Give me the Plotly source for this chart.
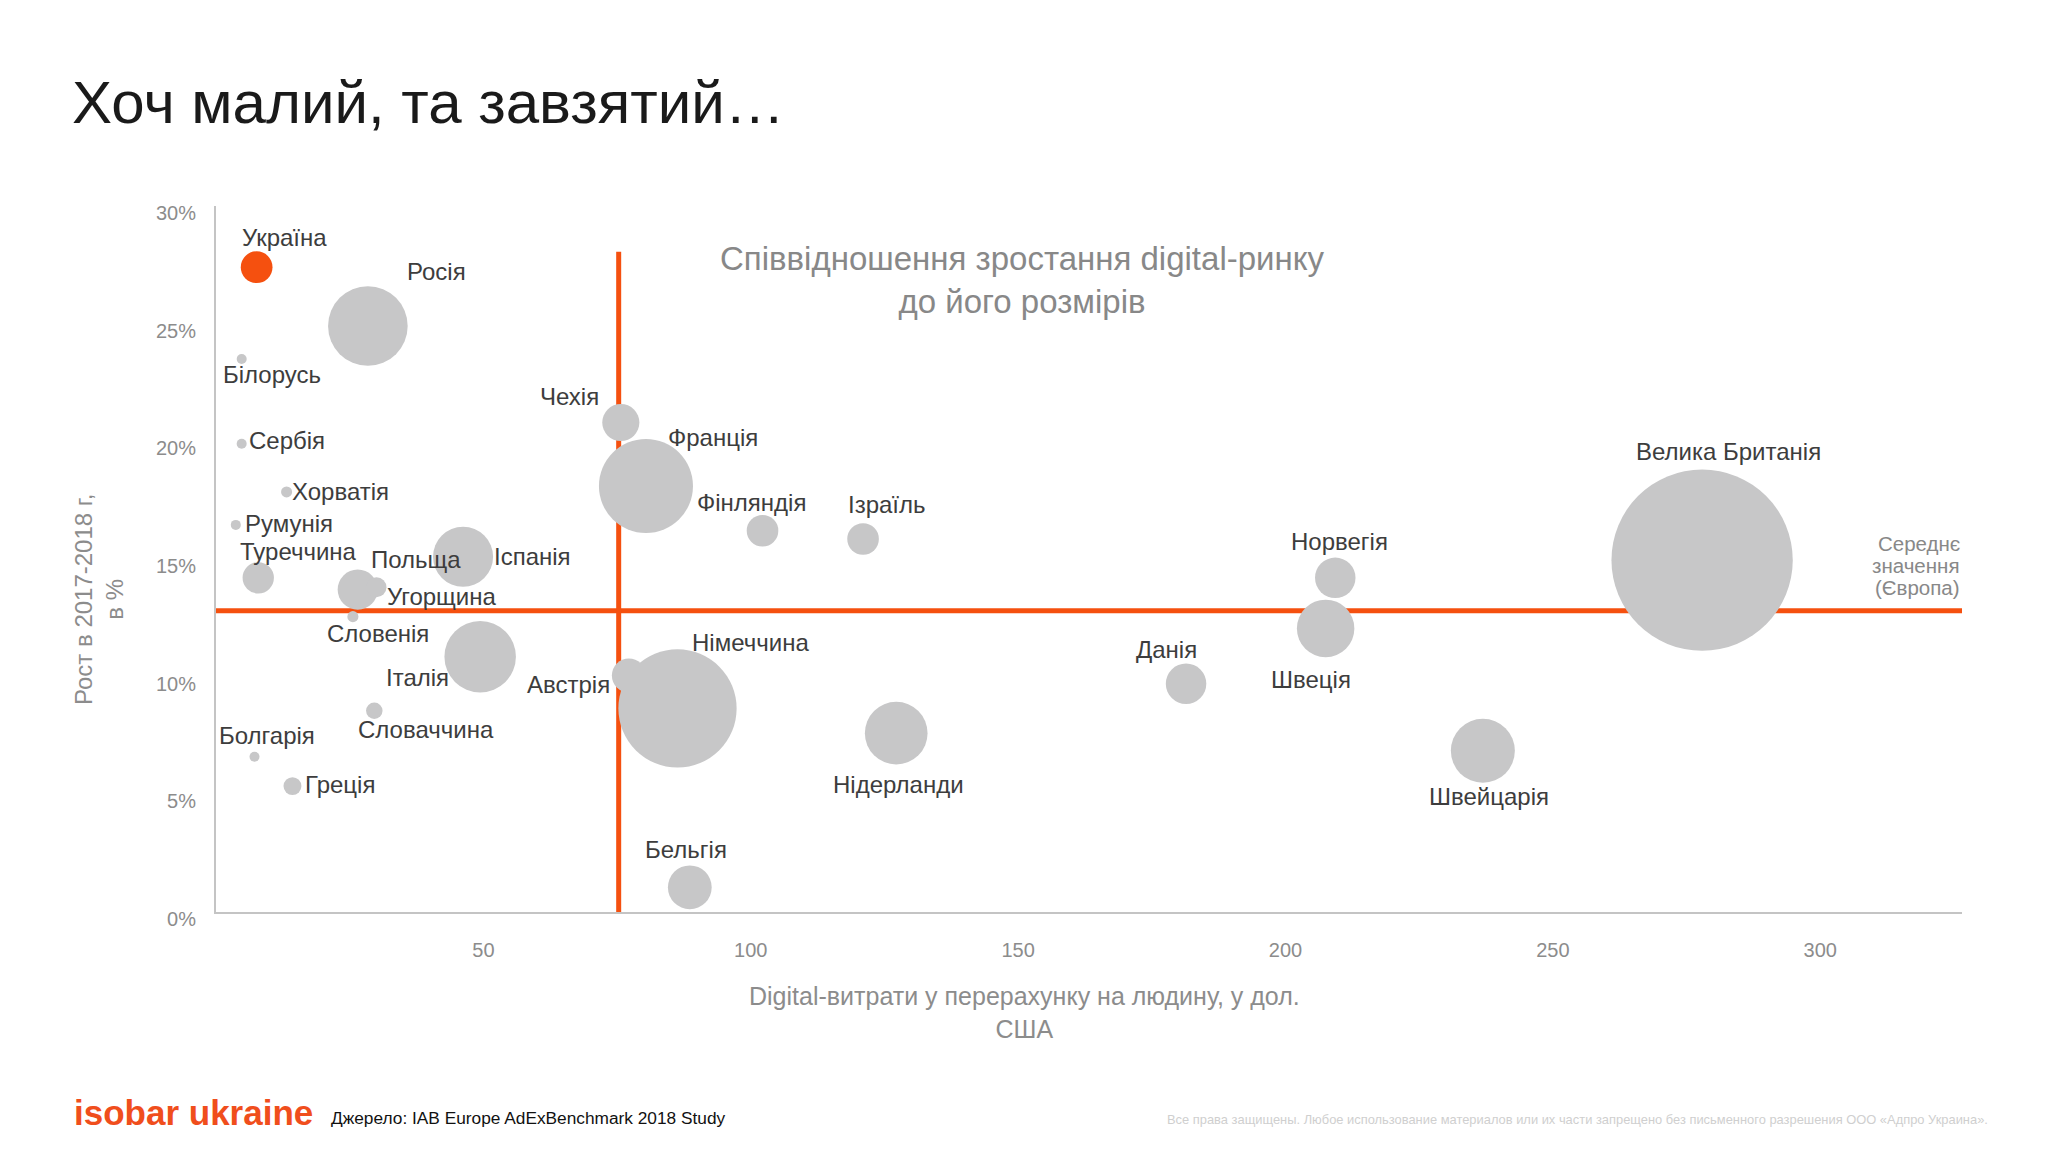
import plotly.graph_objects as go

# ---------------- data ----------------
countries = ["Україна", "Росія", "Білорусь", "Сербія", "Хорватія", "Румунія", "Туреччина",
             "Польща", "Угорщина", "Іспанія", "Словенія", "Італія", "Словаччина", "Болгарія",
             "Греція", "Чехія", "Франція", "Фінляндія", "Ізраїль", "Австрія", "Німеччина",
             "Бельгія", "Нідерланди", "Данія", "Норвегія", "Швеція", "Швейцарія",
             "Велика Британія"]
# digital spend per capita, USD
spend_per_capita = [7.6, 28.4, 4.8, 4.8, 13.2, 3.7, 7.9,
                    26.5, 30.0, 46.2, 25.6, 49.4, 29.6, 7.2,
                    14.3, 75.7, 80.4, 102.2, 121.0, 77.2, 86.3,
                    88.6, 127.2, 181.4, 209.3, 207.5, 236.9,
                    277.9]
# growth 2017-2018, %
growth = [27.4, 24.9, 23.5, 19.9, 17.85, 16.45, 14.2,
          13.7, 13.8, 15.1, 12.55, 10.85, 8.55, 6.6,
          5.35, 20.8, 18.1, 16.2, 15.85, 10.05, 8.65,
          1.05, 7.6, 9.7, 14.2, 12.05, 6.85,
          14.95]
# market size (bubble area)
market_size = [475, 2990, 24, 24, 58, 45, 463,
               758, 191, 1700, 58, 2410, 128, 37,
               151, 650, 4170, 471, 471, 544, 6590,
               903, 1854, 773, 773, 1558, 1932,
               15500]
europe_avg_spend = 75.3
europe_avg_growth = 12.8

x_ticks = [50, 100, 150, 200, 250, 300]
y_ticks = [0, 5, 10, 15, 20, 25, 30]
y_tick_labels = ["0%", "5%", "10%", "15%", "20%", "25%", "30%"]

# ---------------- layout constants ----------------
W, H = 2048, 1152
L, R, T, B = 216, 86, 206, 240
PW, PH = W - L - R, H - T - B
X_MAX, Y_MAX = 326.5, 30
VLINE_TOP = 28.06
MAX_DIAM = 181.3

ORANGE = "#F5500F"
BUBBLE = "#C7C7C8"
LABEL = "#3d3d3d"
GREY = "#8c8c8c"
FONT = "Liberation Sans, Arial, sans-serif"

# label offsets (pixels) relative to bubble centre
label_shift = {
    "Україна": (28, 30), "Росія": (69, 55), "Білорусь": (30, -16), "Сербія": (45, 3),
    "Хорватія": (54, 0), "Румунія": (53, 1), "Туреччина": (40, 26), "Польща": (58, 30),
    "Угорщина": (65, -9), "Іспанія": (69, 0), "Словенія": (25, -17), "Італія": (-63, -21),
    "Словаччина": (52, -19), "Болгарія": (12, 21), "Греція": (48, 2), "Чехія": (-51, 26),
    "Франція": (67, 49), "Фінляндія": (-11, 28), "Ізраїль": (24, 35), "Австрія": (-60, -9),
    "Німеччина": (73, 66), "Бельгія": (-4, 38), "Нідерланди": (2, -51), "Данія": (-20, 34),
    "Норвегія": (4, 36), "Швеція": (-15, -51), "Швейцарія": (6, -46),
    "Велика Британія": (26, 109),
}


def paper(px, py):
    return (px - L) / PW, (H - B - py) / PH


fig = go.Figure()

# average lines
fig.add_trace(go.Scatter(x=[0, X_MAX], y=[europe_avg_growth, europe_avg_growth], mode="lines",
                         line=dict(color=ORANGE, width=5), hoverinfo="skip", showlegend=False))
fig.add_trace(go.Scatter(x=[europe_avg_spend, europe_avg_spend], y=[0, VLINE_TOP], mode="lines",
                         line=dict(color=ORANGE, width=5), hoverinfo="skip", showlegend=False))

colors = [ORANGE if c == "Україна" else BUBBLE for c in countries]
# plotly area mode: diameter = sqrt(value / sizeref) ... with factor 2 on sizeref
sizeref = 2.0 * max(market_size) / MAX_DIAM ** 2
fig.add_trace(go.Scatter(
    x=spend_per_capita, y=growth, mode="markers",
    marker=dict(size=market_size, sizemode="area", sizeref=sizeref, sizemin=5,
                color=colors, opacity=1, line=dict(width=0)),
    text=countries, hoverinfo="text", showlegend=False))

annotations = []
for c, xv, yv in zip(countries, spend_per_capita, growth):
    dx, dy = label_shift[c]
    annotations.append(dict(x=xv, y=yv, xref="x", yref="y", text=c, showarrow=False,
                            xshift=dx, yshift=dy, xanchor="center", yanchor="middle",
                            font=dict(family=FONT, size=24, color=LABEL)))


def add_text(px, py, text, size, color, xanchor="center", align="center", angle=0, bold=False):
    xp, yp = paper(px, py)
    if bold:
        text = "<b>" + text + "</b>"
    annotations.append(dict(x=xp, y=yp, xref="paper", yref="paper", text=text, showarrow=False,
                            xanchor=xanchor, yanchor="middle", align=align, textangle=angle,
                            font=dict(family=FONT, size=size, color=color)))


add_text(70, 102, "Хоч малий, та завзятий…", 60, "#1a1a1a", xanchor="left", align="left")
add_text(1022, 280, "Співвідношення зростання digital-ринку<br>до його розмірів", 33, "#888888")
for txt, py in [("Середнє", 543), ("значення", 565), ("(Європа)", 587)]:
    add_text(1962, py, txt, 20.5, "#888888", xanchor="right", align="right")
add_text(99, 600, "Рост в 2017-2018 г,<br>в %", 24, GREY, angle=-90)
add_text(1024, 1013, "Digital-витрати у перерахунку на людину, у дол.<br>США", 25, GREY)
add_text(72, 1112, "isobar ukraine", 35, "#F04E1C", xanchor="left", align="left", bold=True)
add_text(329, 1118, "Джерело: IAB Europe AdExBenchmark 2018 Study", 17.3, "#111111",
         xanchor="left", align="left")
add_text(1990, 1119, "Все права защищены. Любое использование материалов или их части запрещено без "
         "письменного разрешения ООО «Адпро Украина».", 12.9, "#cfcfcf",
         xanchor="right", align="right")

fig.update_layout(
    width=W, height=H,
    margin=dict(l=L, r=R, t=T, b=B, autoexpand=False),
    paper_bgcolor="white", plot_bgcolor="white",
    showlegend=False, hovermode="closest",
    annotations=annotations,
    xaxis=dict(range=[0, X_MAX], tickvals=x_ticks, ticks="", showgrid=False, zeroline=False,
               showline=True, linecolor="#c4c4c4", linewidth=2, ticklabelstandoff=19,
               tickfont=dict(family=FONT, size=20, color=GREY)),
    yaxis=dict(range=[0, Y_MAX], tickvals=y_ticks, ticktext=y_tick_labels, ticks="",
               showgrid=False, zeroline=False, showline=True, linecolor="#c4c4c4", linewidth=2,
               ticklabelstandoff=14, ticklabelshift=7,
               tickfont=dict(family=FONT, size=20, color=GREY)),
)

fig.write_html("out.html")
